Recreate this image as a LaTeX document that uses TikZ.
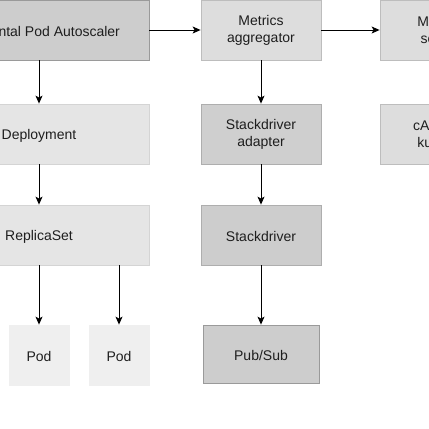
\documentclass[tikz,border=0pt]{standalone}
\usepackage{fontspec}
\setmainfont{Liberation Sans}
\usetikzlibrary{arrows.meta}
\definecolor{fdark}{HTML}{CDCDCD}
\definecolor{bdark}{HTML}{9A9A9A}
\definecolor{fmid}{HTML}{DDDDDD}
\definecolor{bmid}{HTML}{BDBDBD}
\definecolor{flight}{HTML}{E5E5E5}
\definecolor{blight}{HTML}{D4D4D4}
\definecolor{fpod}{HTML}{EFEFEF}
\definecolor{txt}{HTML}{1E1E1E}
\tikzset{
  box/.style={minimum height=60pt, inner sep=0pt, align=center, line width=0.8pt,
    font=\fontsize{14pt}{17pt}\selectfont, text=txt,
    execute at begin node={\rule{0pt}{14pt}}},
  darkbox/.style={box, fill=fdark, draw=bdark},
  midbox/.style={box, fill=fmid, draw=bmid},
  lightbox/.style={box, fill=flight, draw=blight},
  podbox/.style={box, fill=fpod, draw=fpod, minimum width=60pt},
  wide/.style={minimum width=220pt},
  narrow/.style={minimum width=120pt},
  conn/.style={line width=0.9pt, -{Stealth[length=8pt,width=7pt,inset=2pt]}}
}
\begin{document}
\begin{tikzpicture}[x=1pt,y=-1pt]
\useasboundingbox (0,0) rectangle (429,429);
\clip (0,0) rectangle (429,429);
\fill[white] (0,0) rectangle (429,429);
\node[darkbox, wide] (hpa) at (39,30) {Horizontal Pod Autoscaler};
\node[midbox, narrow] (ma) at (261,30) {Metrics\\aggregator};
\node[midbox, narrow] (ms) at (440,30) {Metrics\\server};
\node[lightbox, wide] (dep) at (39,134) {Deployment};
\node[darkbox, narrow, fill=fdark!95!white, draw=bdark!80!white] (sa) at (261,134) {Stackdriver\\adapter};
\node[midbox, narrow] (cad) at (440,134) {cAdvisor\\kubelet};
\node[lightbox, wide] (rs) at (39,235) {ReplicaSet};
\node[darkbox, narrow, draw=bdark!80!white] (sd) at (261,235) {Stackdriver};
\node[podbox] (pod1) at (39,355) {Pod};
\node[podbox] (pod2) at (119,355) {Pod};
\node[darkbox, minimum width=116pt, minimum height=58pt] (ps) at (261,354) {Pub/Sub};
\draw[conn] (hpa.east) -- (ma.west);
\draw[conn] (ma.east) -- (ms.west);
\draw[conn] (hpa.south) -- (dep.north);
\draw[conn] (dep.south) -- (rs.north);
\draw[conn] (pod1.north |- rs.south) -- (pod1.north);
\draw[conn] (pod2.north |- rs.south) -- (pod2.north);
\draw[conn] (ma.south) -- (sa.north);
\draw[conn] (sa.south) -- (sd.north);
\draw[conn] (sd.south) -- (ps.north);
\end{tikzpicture}
\end{document}
